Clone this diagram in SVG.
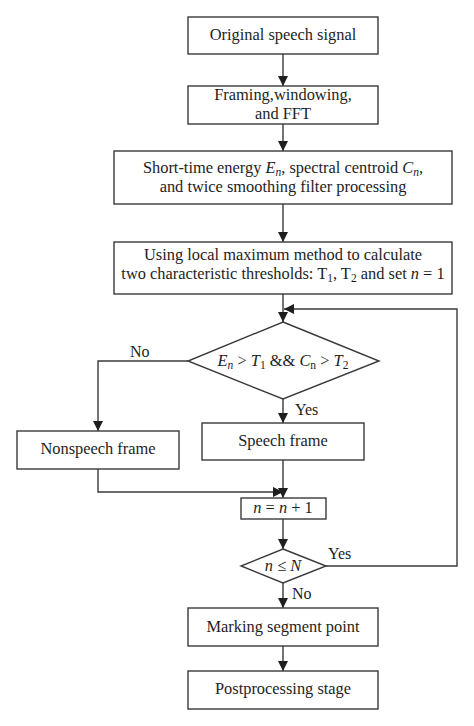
<svg xmlns="http://www.w3.org/2000/svg" width="474" height="726" viewBox="0 0 474 726">
<style>
.b{fill:#fff;stroke:#3a3a3a;stroke-width:1.4}
.t{font-family:"Liberation Serif",serif;font-size:16.4px;fill:#1e1e1e;text-anchor:middle}
.l{font-family:"Liberation Serif",serif;font-size:16px;fill:#1e1e1e}
.c{fill:none;stroke:#3a3a3a;stroke-width:1.4}
.i{font-style:italic}
.s{font-size:11.5px}
</style>
<defs>
<marker id="a" markerUnits="userSpaceOnUse" markerWidth="10" markerHeight="10" refX="10" refY="5" orient="auto" viewBox="0 0 10 10">
<path d="M0,0 L10,5 L0,10 z" fill="#1e1e1e"/>
</marker>
</defs>
<rect width="474" height="726" fill="#fff"/>
<g id="connectors">
<path class="c" d="M283,54 V86" marker-end="url(#a)"/>
<path class="c" d="M283,124 V151" marker-end="url(#a)"/>
<path class="c" d="M283,204 V242" marker-end="url(#a)"/>
<path class="c" d="M283,294 V322" marker-end="url(#a)"/>
<path class="c" d="M188,361 H98 V431" marker-end="url(#a)"/>
<path class="c" d="M283,399 V423" marker-end="url(#a)"/>
<path class="c" d="M98,469 V492 H283" marker-end="url(#a)"/>
<path class="c" d="M283,460 V498" marker-end="url(#a)"/>
<path class="c" d="M283,519 V549" marker-end="url(#a)"/>
<path class="c" d="M326,566 H457 V309 H284" marker-end="url(#a)"/>
<path class="c" d="M283,583 V608" marker-end="url(#a)"/>
<path class="c" d="M283,646 V671" marker-end="url(#a)"/>
<text class="l" x="130" y="357">No</text>
<text class="l" x="295" y="415">Yes</text>
<text class="l" x="328" y="559">Yes</text>
<text class="l" x="292" y="599">No</text>
</g>
<g id="n1"><rect class="b" x="188" y="17" width="190" height="37"/><text class="t" x="283" y="40">Original speech signal</text></g>
<g id="n2"><rect class="b" x="188" y="86" width="190" height="38"/><text class="t" x="283" y="100">Framing,windowing,</text><text class="t" x="283" y="119">and FFT</text></g>
<g id="n3"><rect class="b" x="114" y="151" width="338" height="53"/>
<text class="t" x="283" y="173">Short-time energy <tspan class="i">E</tspan><tspan class="i s" dy="3">n</tspan><tspan dy="-3">, spectral centroid </tspan><tspan class="i">C</tspan><tspan class="i s" dy="3">n</tspan><tspan dy="-3">,</tspan></text>
<text class="t" x="283" y="192">and twice smoothing filter processing</text></g>
<g id="n4"><rect class="b" x="114" y="242" width="338" height="52"/>
<text class="t" x="283" y="260">Using local maximum method to calculate</text>
<text class="t" x="283" y="279">two characteristic thresholds: T<tspan class="s" dy="3">1</tspan><tspan dy="-3">, T</tspan><tspan class="s" dy="3">2</tspan><tspan dy="-3"> and set </tspan><tspan class="i">n</tspan> = 1</text></g>
<g id="d1"><polygon class="b" points="283,322 379,361 283,399 188,361"/>
<text class="t" x="283" y="366"><tspan class="i">E</tspan><tspan class="i s" dy="3">n</tspan><tspan dy="-3"> &gt; </tspan><tspan class="i">T</tspan><tspan class="s" dy="3">1</tspan><tspan dy="-3"> &amp;&amp; </tspan><tspan class="i">C</tspan><tspan class="s" dy="3">n</tspan><tspan dy="-3"> &gt; </tspan><tspan class="i">T</tspan><tspan class="s" dy="3">2</tspan></text></g>
<g id="n5"><rect class="b" x="17" y="431" width="162" height="38"/><text class="t" x="98" y="454">Nonspeech frame</text></g>
<g id="n6"><rect class="b" x="202" y="423" width="162" height="37"/><text class="t" x="283" y="446">Speech frame</text></g>
<g id="n7"><rect class="b" x="241" y="498" width="85" height="21"/><text class="t" x="283" y="513"><tspan class="i">n</tspan> = <tspan class="i">n</tspan> + 1</text></g>
<g id="d2"><polygon class="b" points="283,549 326,566 283,583 241,566"/><text class="t" x="283" y="571"><tspan class="i">n</tspan> ≤ <tspan class="i">N</tspan></text></g>
<g id="n8"><rect class="b" x="188" y="608" width="190" height="38"/><text class="t" x="283" y="632">Marking segment point</text></g>
<g id="n9"><rect class="b" x="188" y="671" width="190" height="38"/><text class="t" x="283" y="694">Postprocessing stage</text></g>
</svg>
